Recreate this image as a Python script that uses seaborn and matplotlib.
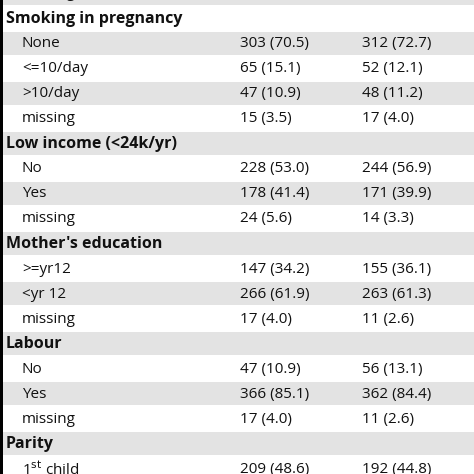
import matplotlib
matplotlib.use("Agg")
import matplotlib.pyplot as plt
import seaborn as sns

sns.set_theme(style="white")
plt.rcParams['font.family'] = ['Open Sans', 'DejaVu Sans']

labels = ["missing", "Smoking in pregnancy", "None", "<=10/day", ">10/day", "missing",
          "Low income (<24k/yr)", "No", "Yes", "missing",
          "Mother's education", ">=yr12", "<yr 12", "missing",
          "Labour", "No", "Yes", "missing",
          "Parity", "1$^{\\mathrm{st}}$ child"]
is_header = [False, True, False, False, False, False, True, False, False, False,
             True, False, False, False, True, False, False, False, True, False]
col1 = ["", "", "303 (70.5)", "65 (15.1)", "47 (10.9)", "15 (3.5)", "",
        "228 (53.0)", "178 (41.4)", "24 (5.6)", "",
        "147 (34.2)", "266 (61.9)", "17 (4.0)", "",
        "47 (10.9)", "366 (85.1)", "17 (4.0)", "", "209 (48.6)"]
col2 = ["", "", "312 (72.7)", "52 (12.1)", "48 (11.2)", "17 (4.0)", "",
        "244 (56.9)", "171 (39.9)", "14 (3.3)", "",
        "155 (36.1)", "263 (61.3)", "11 (2.6)", "",
        "56 (13.1)", "362 (84.4)", "11 (2.6)", "", "192 (44.8)"]

fig = plt.figure(figsize=(4.74, 4.74), dpi=100)
ax = fig.add_axes([0, 0, 1, 1])
W = 474
ax.set_xlim(0, W)
ax.set_ylim(19.2, 0.28)
ax.axis("off")

for i, lab in enumerate(labels):
    if i % 2 == 0:
        ax.axhspan(i - 0.46, i + 0.46, color="#e3e3e3", lw=0)
    y = i + 0.02
    if is_header[i]:
        ax.text(6, y, lab, fontsize=11.5, fontweight="bold", va="center", color="#111111")
    else:
        ax.text(22, y, lab, fontsize=11, va="center", color="#111111")
    ax.text(240, y, col1[i], fontsize=11, va="center", color="#111111")
    ax.text(362, y, col2[i], fontsize=11, va="center", color="#111111")

ax.axvspan(0, 3, color="black", lw=0)
fig.savefig("out.png", dpi=100)
